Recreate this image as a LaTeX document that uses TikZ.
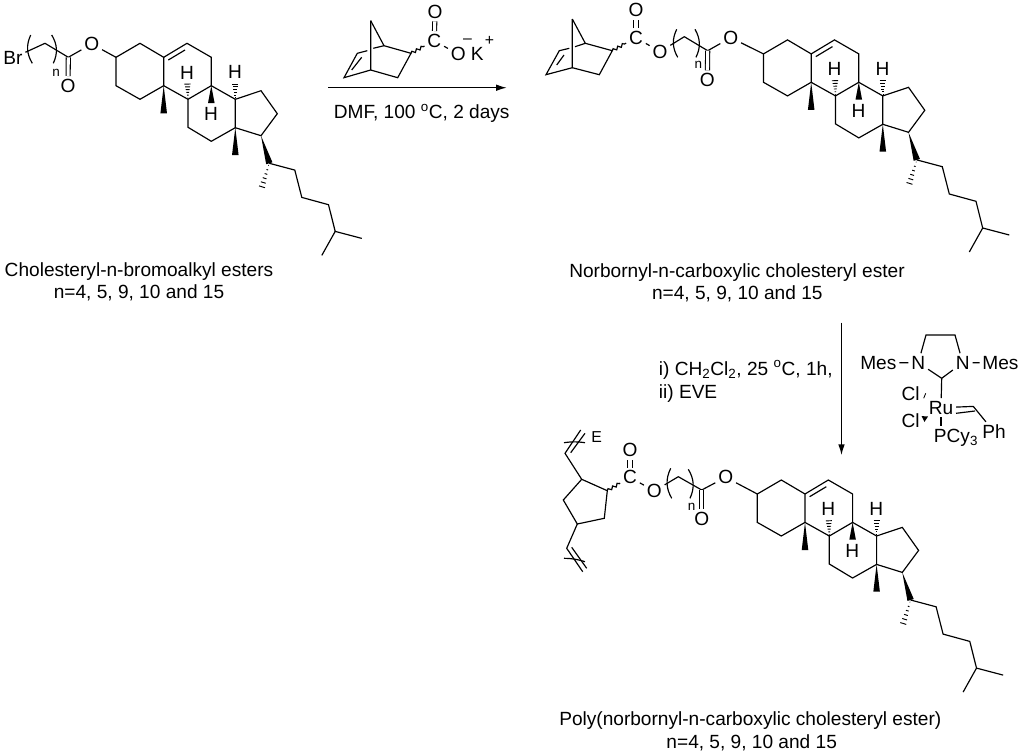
\documentclass[tikz,border=0pt]{standalone}
\usepackage{fontspec}
\setmainfont{Liberation Sans}
\usetikzlibrary{arrows.meta,calc,decorations.pathmorphing}
\tikzset{
	atom/.style={inner sep=2pt,font=\fontsize{16.3}{18}\selectfont},
	tinyatom/.style={inner sep=0pt,font=\fontsize{11.5}{12}\selectfont},
	charge/.style={inner sep=0pt,font=\fontsize{13.5}{14}\selectfont},
	label/.style={inner sep=0pt,font=\fontsize{16.3}{18}\selectfont},
	wavy/.style={decorate,decoration={snake,amplitude=1.2pt,segment length=4.5pt}},
	dbl/.style={double,double distance=2.6pt,line width=0.9pt},
}
\newcommand{\wedgebond}[2]{\fill (#1) -- ($(#2)!2.8pt!90:(#1)$) -- ($(#2)!2.8pt!-90:(#1)$) -- cycle;}
\newcommand{\hashbond}[2]{\foreach \t [evaluate=\t as \w using \t*3] in {0.08,0.24,...,1}{
	\draw[line width=0.8pt] ($(#1)!\t!(#2)!\w pt!90:(#2)$) -- ($(#1)!\t!(#2)!\w pt!-90:(#2)$);
}}
\newcommand{\steroid}{
	\coordinate (c1) at (140,99.3);
	\coordinate (c2) at (116,85.7);
	\coordinate (c3) at (116,57.3);
	\coordinate (c4) at (140,43.3);
	\coordinate (c5) at (163.7,57.3);
	\coordinate (c6) at (187,43.3);
	\coordinate (c7) at (211.3,57.3);
	\coordinate (c8) at (211.3,85.7);
	\coordinate (c9) at (188,99.3);
	\coordinate (c10) at (163.7,85.7);
	\coordinate (c11) at (188,127.3);
	\coordinate (c12) at (211.3,141.3);
	\coordinate (c13) at (235.3,127.7);
	\coordinate (c14) at (235.3,99.3);
	\coordinate (c15) at (261,90.7);
	\coordinate (c16) at (277.3,113.7);
	\coordinate (c17) at (261,135.7);
	\coordinate (c18) at (235.3,155);
	\coordinate (c19) at (163.7,113.3);
	\coordinate (c20) at (269.3,163.3);
	\coordinate (c21) at (261,190);
	\coordinate (c22) at (294.8,170.1);
	\coordinate (c23) at (301.8,197.4);
	\coordinate (c24) at (328.5,204.7);
	\coordinate (c25) at (335.2,231.4);
	\coordinate (c26) at (361.8,238.4);
	\coordinate (c27) at (321.8,255.4);
	\coordinate (in5) at (168.3,60);
	\coordinate (in6) at (185,50);
	\coordinate (h8b) at (211.3,103);
	\coordinate (h9b) at (187.5,82);
	\coordinate (h14b) at (235.3,82);
	\node[atom] (h8) at (211,114.3) {H};
	\node[atom] (h9) at (187,72.7) {H};
	\node[atom] (h14) at (235,72) {H};
	\draw (c3) -- (c4) -- (c5) -- (c10) -- (c1) -- (c2) -- (c3);
	\draw (c5) -- (c6) -- (c7) -- (c8) -- (c9) -- (c10);
	\draw (in5) -- (in6);
	\draw (c9) -- (c11) -- (c12) -- (c13) -- (c14) -- (c8);
	\draw (c14) -- (c15) -- (c16) -- (c17) -- (c13);
	\draw (c20) -- (c22) -- (c23) -- (c24) -- (c25) -- (c26);
	\draw (c25) -- (c27);
	\wedgebond{c10}{c19}
	\wedgebond{c13}{c18}
	\wedgebond{c17}{c20}
	\wedgebond{c8}{h8b}
	\hashbond{c9}{h9b}
	\hashbond{c14}{h14b}
	\hashbond{c20}{c21}
}
\begin{document}
\begin{tikzpicture}[x=0.03cm,y=-0.03cm,line width=1pt,>={Latex[length=9pt,width=5.6pt]}]
\useasboundingbox (0,0) rectangle (1024,755);
\begin{scope}[name prefix=a-]
\steroid
\end{scope}
\node[atom] (bra) at (13,58) {Br};
\coordinate (pka) at (45,43.3);
\coordinate (cra) at (68.3,57.3);
\node[atom] (oda) at (68,85.7) {O};
\node[atom] (oea) at (91.7,44) {O};
\node[tinyatom] (na) at (56,73.3) {n};
\draw (bra) -- (pka) -- (cra) -- (oea) -- (a-c3);
\draw[dbl] (cra) -- (oda);
\draw (30.7,35) to[bend right=28] (32.3,63.3);
\draw (51.7,35) to[bend left=28] (53.3,63.3);
\node[label] (namea) at (139,272) {Cholesteryl-n-bromoalkyl esters};
\node[label] (rangea) at (139,292.7) {n=4, 5, 9, 10 and 15};

\coordinate (ntop) at (370.7,20.7);
\coordinate (nbh) at (384,45.7);
\coordinate (nsub) at (411,53.3);
\coordinate (nch) at (397.7,77.7);
\coordinate (nbl) at (370.7,70);
\coordinate (nvb) at (344,77.7);
\coordinate (nva) at (357.3,53.3);
\coordinate (ngapa) at (367.3,50.7);
\coordinate (ngapb) at (373.3,48.3);
\coordinate (nina) at (351.7,70);
\coordinate (ninb) at (361.7,57.3);
\node[atom] (cn) at (434.3,40.7) {C};
\node[atom] (odn) at (435,11.7) {O};
\node[atom] (oen) at (458.3,54.3) {O};
\node[atom] (kn) at (477.3,53.8) {K};
\node[charge] (mn) at (467.5,41) {--};
\node[charge] (pn) at (489.5,41) {+};
\draw (ntop) -- (nbl) -- (nvb) -- (nva) -- (ngapa);
\draw (ntop) -- (nbh) -- (nsub) -- (nch) -- (nbl);
\draw (nbh) -- (ngapb);
\draw (nina) -- (ninb);
\draw[wavy] (nsub) -- (cn);
\draw[dbl] (cn) -- (odn);
\draw (cn) -- (oen);
\coordinate (arwa) at (328.3,87.7);
\coordinate (arwb) at (506.7,87.7);
\draw[->] (arwa) -- (arwb);
\node[label] (conda) at (421.7,113.3) {DMF, 100 \textsuperscript{o}C, 2 days};

\begin{scope}[shift={(647.5,-3.4)},name prefix=b-]
\steroid
\end{scope}
\coordinate (btop) at (572.3,19);
\coordinate (bbh) at (585.3,43.3);
\coordinate (bsub) at (612.3,50.7);
\coordinate (bch) at (599.3,74.7);
\coordinate (bbl) at (572.3,67.7);
\coordinate (bvb) at (546,74.7);
\coordinate (bva) at (559.3,50.7);
\coordinate (bgapa) at (569.3,48.3);
\coordinate (bgapb) at (575,46.7);
\coordinate (bina) at (556.7,65);
\coordinate (binb) at (564,55);
\node[atom] (cb) at (636,37.7) {C};
\node[atom] (odb) at (636,10) {O};
\node[atom] (oeb) at (660,51.7) {O};
\coordinate (pkb) at (684.3,36.7);
\coordinate (crb) at (707.7,50.7);
\node[atom] (ofb) at (707.3,80) {O};
\node[atom] (ogb) at (730.7,37.7) {O};
\node[tinyatom] (nb) at (698.3,65) {n};
\draw (btop) -- (bbl) -- (bvb) -- (bva) -- (bgapa);
\draw (btop) -- (bbh) -- (bsub) -- (bch) -- (bbl);
\draw (bbh) -- (bgapb);
\draw (bina) -- (binb);
\draw[wavy] (bsub) -- (cb);
\draw[dbl] (cb) -- (odb);
\draw (cb) -- (oeb);
\draw (oeb) -- (pkb) -- (crb) -- (ogb) -- (b-c3);
\draw[dbl] (crb) -- (ofb);
\draw (676.7,29.3) to[bend right=28] (677.7,57.3);
\draw (695,29.3) to[bend left=28] (696,57.3);
\node[label] (nameb) at (737,273) {Norbornyl-n-carboxylic cholesteryl ester};
\node[label] (rangeb) at (737.3,294) {n=4, 5, 9, 10 and 15};

\coordinate (arxa) at (841.5,322.7);
\coordinate (arxb) at (841.5,455);
\draw[->] (arxa) -- (arxb);
\node[label,anchor=west] (condb) at (658.3,370) {i) CH\textsubscript{2}Cl\textsubscript{2}, 25 \textsuperscript{o}C, 1h,};
\node[label,anchor=west] (condc) at (658.3,394) {ii) EVE};

\node[atom] (nl) at (918.3,362.7) {N};
\node[atom] (nr) at (962.7,362.7) {N};
\node[atom] (mesl) at (878.3,362.7) {Mes};
\node[atom] (mesr) at (1000.5,362.7) {Mes};
\coordinate (rta) at (926,335);
\coordinate (rtb) at (955,335);
\coordinate (carb) at (941.7,378.3);
\node[atom] (ru) at (941,407.7) {Ru};
\node[atom] (cla) at (910.7,394) {Cl};
\node[atom] (clb) at (910.7,421) {Cl};
\node[atom,anchor=base] (pcy) at (956,442) {PCy\textsubscript{3}};
\node[atom] (ph) at (994,431.7) {Ph};
\coordinate (chb) at (973.3,406.4);
\coordinate (chc) at (975,411);
\coordinate (chd) at (956,413.3);
\coordinate (wa) at (923.7,398.3);
\coordinate (wb) at (925.7,393.3);
\coordinate (wc) at (928,416.5);
\coordinate (wd) at (923,419);
\draw (mesl) -- (nl) -- (rta) -- (rtb) -- (nr) -- (mesr);
\draw (nl) -- (carb) -- (nr);
\draw (carb) -- (ru);
\draw (ru) -- (pcy.north -| ru);
\draw (ru) -- (chb) -- (ph);
\draw (chd) -- (chc);
\draw[line width=0.7pt] (wa) -- (wb);
\wedgebond{wc}{wd}

\begin{scope}[shift={(641.3,436.7)},name prefix=c-]
\steroid
\end{scope}
\coordinate (pa) at (581.7,479.3);
\coordinate (pb) at (607.3,490.7);
\coordinate (pc) at (604.3,518.3);
\coordinate (pd) at (577.3,524);
\coordinate (pe) at (563.3,500);
\coordinate (va) at (565,453.3);
\coordinate (vb) at (580.7,430);
\coordinate (vc) at (570.7,452.7);
\coordinate (vd) at (585,433.3);
\coordinate (ve) at (564,442.7);
\coordinate (vf) at (585,442.7);
\coordinate (wva) at (566.7,548.3);
\coordinate (wvb) at (582.7,571.7);
\coordinate (wvc) at (571.7,547.3);
\coordinate (wvd) at (586.7,568.3);
\coordinate (wve) at (564,558.3);
\coordinate (wvf) at (585,561.7);
\node[charge] (ep) at (596.7,436.7) {E};
\node[atom] (cp) at (630,477.3) {C};
\node[atom] (odp) at (630,450) {O};
\node[atom] (oep) at (654.3,491) {O};
\coordinate (pkp) at (678.3,476.7);
\coordinate (crp) at (701.7,490);
\node[atom] (ofp) at (701.7,519) {O};
\node[atom] (ogp) at (725.7,477.3) {O};
\node[tinyatom] (np) at (691.7,506.7) {n};
\draw (pa) -- (pb) -- (pc) -- (pd) -- (pe) -- (pa);
\draw (pa) -- (va) -- (vb);
\draw (vc) -- (vd);
\draw (ve) to[bend left=8] (vf);
\draw (pd) -- (wva) -- (wvb);
\draw (wvc) -- (wvd);
\draw (wve) to[bend left=8] (wvf);
\draw[wavy] (pb) -- (cp);
\draw[dbl] (cp) -- (odp);
\draw (cp) -- (oep);
\draw (oep) -- (pkp) -- (crp) -- (ogp) -- (c-c3);
\draw[dbl] (crp) -- (ofp);
\draw (670.7,468.3) to[bend right=28] (671.7,498.3);
\draw (688.3,469.3) to[bend left=28] (690,498.3);
\node[label] (namec) at (750.3,720.7) {Poly(norbornyl-n-carboxylic cholesteryl ester)};
\node[label] (rangec) at (751.7,742.7) {n=4, 5, 9, 10 and 15};
\end{tikzpicture}
\end{document}
